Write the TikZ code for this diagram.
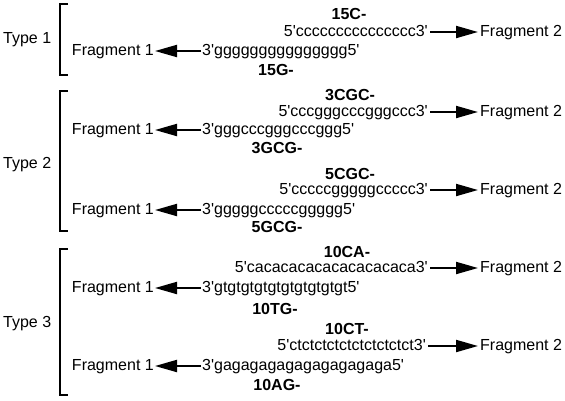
\documentclass[tikz,border=0pt]{standalone}
\usepackage{fontspec}
\setmainfont{Liberation Sans}[Ligatures=TeXOff]
\usetikzlibrary{arrows.meta}
\tikzset{
  txt/.style={inner sep=0pt, font=\fontsize{16}{18}\selectfont, text height=11.5pt, text depth=3.5pt},
  lbl/.style={inner sep=0pt, font=\fontsize{16}{18}\selectfont\bfseries, text height=11.5pt, text depth=0pt},
  seqr/.style={txt, anchor=east, inner xsep=2pt},
  seql/.style={txt, anchor=west, inner xsep=1pt},
  fragr/.style={txt, anchor=west, inner xsep=2pt},
  fragl/.style={txt, anchor=east, inner xsep=1pt},
  typel/.style={txt, anchor=west},
  conn/.style={line width=2pt, -{Triangle[length=22pt,width=12pt]}},
  brk/.style={line width=2.4pt, line cap=butt, line join=miter}
}
\begin{document}
\begin{tikzpicture}[x=1pt,y=-1pt]
\useasboundingbox (0,0) rectangle (565,400);
% ---------- Type 1
\node[typel] (t1) at (3,39) {Type 1};
\draw[brk] (68,4) -- (60,4) -- (60,75) -- (68,75);
\node[lbl] (l15c) at (349,14) {15C-};
\node[seqr] (s15c) at (430,32) {5'ccccccccccccccc3'};
\node[fragr] (f15c) at (478,32) {Fragment 2};
\draw[conn] (s15c.east) -- (f15c.west);
\node[seql] (s15g) at (201,51) {3'ggggggggggggggg5'};
\node[fragl] (f15g) at (155,51) {Fragment 1};
\draw[conn] (s15g.west) -- (f15g.east);
\node[lbl] (l15g) at (276,70) {15G-};
% ---------- Type 2
\node[typel] (t2) at (3,164) {Type 2};
\draw[brk] (68,91) -- (60,91) -- (60,231) -- (68,231);
\node[lbl] (l3cgc) at (350,94.5) {3CGC-};
\node[seqr] (s3cgc) at (430,112) {5'cccgggcccgggccc3'};
\node[fragr] (f3cgc) at (478,112) {Fragment 2};
\draw[conn] (s3cgc.east) -- (f3cgc.west);
\node[seql] (s3gcg) at (201,130) {3'gggcccgggcccggg5'};
\node[fragl] (f3gcg) at (155,130) {Fragment 1};
\draw[conn] (s3gcg.west) -- (f3gcg.east);
\node[lbl] (l3gcg) at (277,148) {3GCG-};
\node[lbl] (l5cgc) at (350,173.5) {5CGC-};
\node[seqr] (s5cgc) at (430,190) {5'cccccgggggccccc3'};
\node[fragr] (f5cgc) at (478,190) {Fragment 2};
\draw[conn] (s5cgc.east) -- (f5cgc.west);
\node[seql] (s5gcg) at (201,210) {3'gggggcccccggggg5'};
\node[fragl] (f5gcg) at (155,210) {Fragment 1};
\draw[conn] (s5gcg.west) -- (f5gcg.east);
\node[lbl] (l5gcg) at (277,227) {5GCG-};
% ---------- Type 3
\node[typel] (t3) at (3,323) {Type 3};
\draw[brk] (68,249) -- (60,249) -- (60,395) -- (68,395);
\node[lbl] (l10ca) at (347,251.5) {10CA-};
\node[seqr] (s10ca) at (430,268) {5'cacacacacacacacacaca3'};
\node[fragr] (f10ca) at (478,268) {Fragment 2};
\draw[conn] (s10ca.east) -- (f10ca.west);
\node[seql] (s10tg) at (201,288) {3'gtgtgtgtgtgtgtgtgtgt5'};
\node[fragl] (f10tg) at (155,288) {Fragment 1};
\draw[conn] (s10tg.west) -- (f10tg.east);
\node[lbl] (l10tg) at (275,309) {10TG-};
\node[lbl] (l10ct) at (347,329) {10CT-};
\node[seqr] (s10ct) at (428,346) {5'ctctctctctctctctctct3'};
\node[fragr] (f10ct) at (478,346) {Fragment 2};
\draw[conn] (s10ct.east) -- (f10ct.west);
\node[seql] (s10ag) at (201,366) {3'gagagagagagagagagaga5'};
\node[fragl] (f10ag) at (155,366) {Fragment 1};
\draw[conn] (s10ag.west) -- (f10ag.east);
\node[lbl] (l10ag) at (277,385) {10AG-};
\end{tikzpicture}
\end{document}
